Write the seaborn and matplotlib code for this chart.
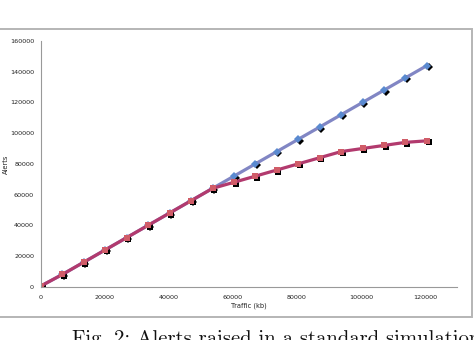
import matplotlib
matplotlib.use("Agg")
import matplotlib.pyplot as plt
from matplotlib.patches import Rectangle
from matplotlib.transforms import offset_copy
import seaborn as sns
import pandas as pd

traffic = [0, 6700, 13400, 20100, 26800, 33500, 40200, 46900, 53600, 60300,
           67000, 73700, 80400, 87100, 93800, 100500, 107200, 113900, 120600]
alerts_linear = [500, 8000, 16000, 24000, 32000, 40000, 48000, 56000, 64000, 72000,
                 80000, 88000, 96000, 104000, 112000, 120000, 128000, 136000, 144000]
alerts_standard = [500, 8000, 16000, 24000, 32000, 40000, 48000, 56000, 64000, 68000,
                   72000, 76000, 80000, 84000, 88000, 90000, 92000, 94000, 95000]
x_ticks = [0, 20000, 40000, 60000, 80000, 100000, 120000]
y_ticks = [0, 20000, 40000, 60000, 80000, 100000, 120000, 140000, 160000]
caption = "Fig. 2: Alerts raised in a standard simulation"

sns.set_style("white")

df_lin = pd.DataFrame({"Traffic": traffic, "Alerts": alerts_linear})
df_std = pd.DataFrame({"Traffic": traffic, "Alerts": alerts_standard})

fig = plt.figure(figsize=(4.74, 3.4), dpi=100)
ax = fig.add_axes([41 / 474, 1 - 286.7 / 340, (457 - 41) / 474, (286.7 - 41) / 340])

shadow = offset_copy(ax.transData, fig=fig, x=1.6, y=-1.6, units="dots")

# linear series: shadow markers, then line with diamonds
sns.lineplot(data=df_lin, x="Traffic", y="Alerts", ax=ax, color="black",
             linestyle="none", marker="D", markersize=4.0, markeredgewidth=0,
             transform=shadow)
sns.lineplot(data=df_lin, x="Traffic", y="Alerts", ax=ax, color="#8186c4",
             linewidth=2.3, marker="D", markersize=4.0, markerfacecolor="#5a8ad0",
             markeredgewidth=0)

# standard series: shadow markers, then line with squares
sns.lineplot(data=df_std, x="Traffic", y="Alerts", ax=ax, color="black",
             linestyle="none", marker="s", markersize=5, markeredgewidth=0,
             transform=shadow)
sns.lineplot(data=df_std, x="Traffic", y="Alerts", ax=ax, color="#b23a6e",
             linewidth=2.3, marker="s", markersize=5, markerfacecolor="#d05c68",
             markeredgewidth=0)

ax.set_xlim(0, 130000)
ax.set_ylim(0, 160000)
ax.set_xticks(x_ticks)
ax.set_yticks(y_ticks)
ax.set_xticklabels([str(t) for t in x_ticks])
ax.set_yticklabels([str(t) for t in y_ticks])
ax.tick_params(axis="both", labelsize=4.6, colors="#222222", length=3,
               width=0.7, direction="out", pad=2)
ax.tick_params(axis="x", pad=3)
ax.tick_params(axis="both", color="#999999")
for side in ("top", "right"):
    ax.spines[side].set_visible(False)
for side in ("left", "bottom"):
    ax.spines[side].set_color("#999999")
    ax.spines[side].set_linewidth(0.8)

ax.set_xlabel("Traffic (kb)", fontsize=4.8, color="#222222", labelpad=1.5)
ax.set_ylabel("Alerts", fontsize=4.8, color="#222222", labelpad=0.5)

# chart frame
fig.patches.append(Rectangle((-0.01, 1 - 317 / 340), 0.01 + 472 / 474, (317 - 29) / 340,
                             transform=fig.transFigure, fill=False,
                             edgecolor="#b5b5b5", linewidth=1.4))

fig.text(72 / 474, 1 - 330.5 / 340, caption, fontsize=14.9, family="cmr10",
         color="#111111", va="top", ha="left")

fig.savefig("out.png", dpi=100)
